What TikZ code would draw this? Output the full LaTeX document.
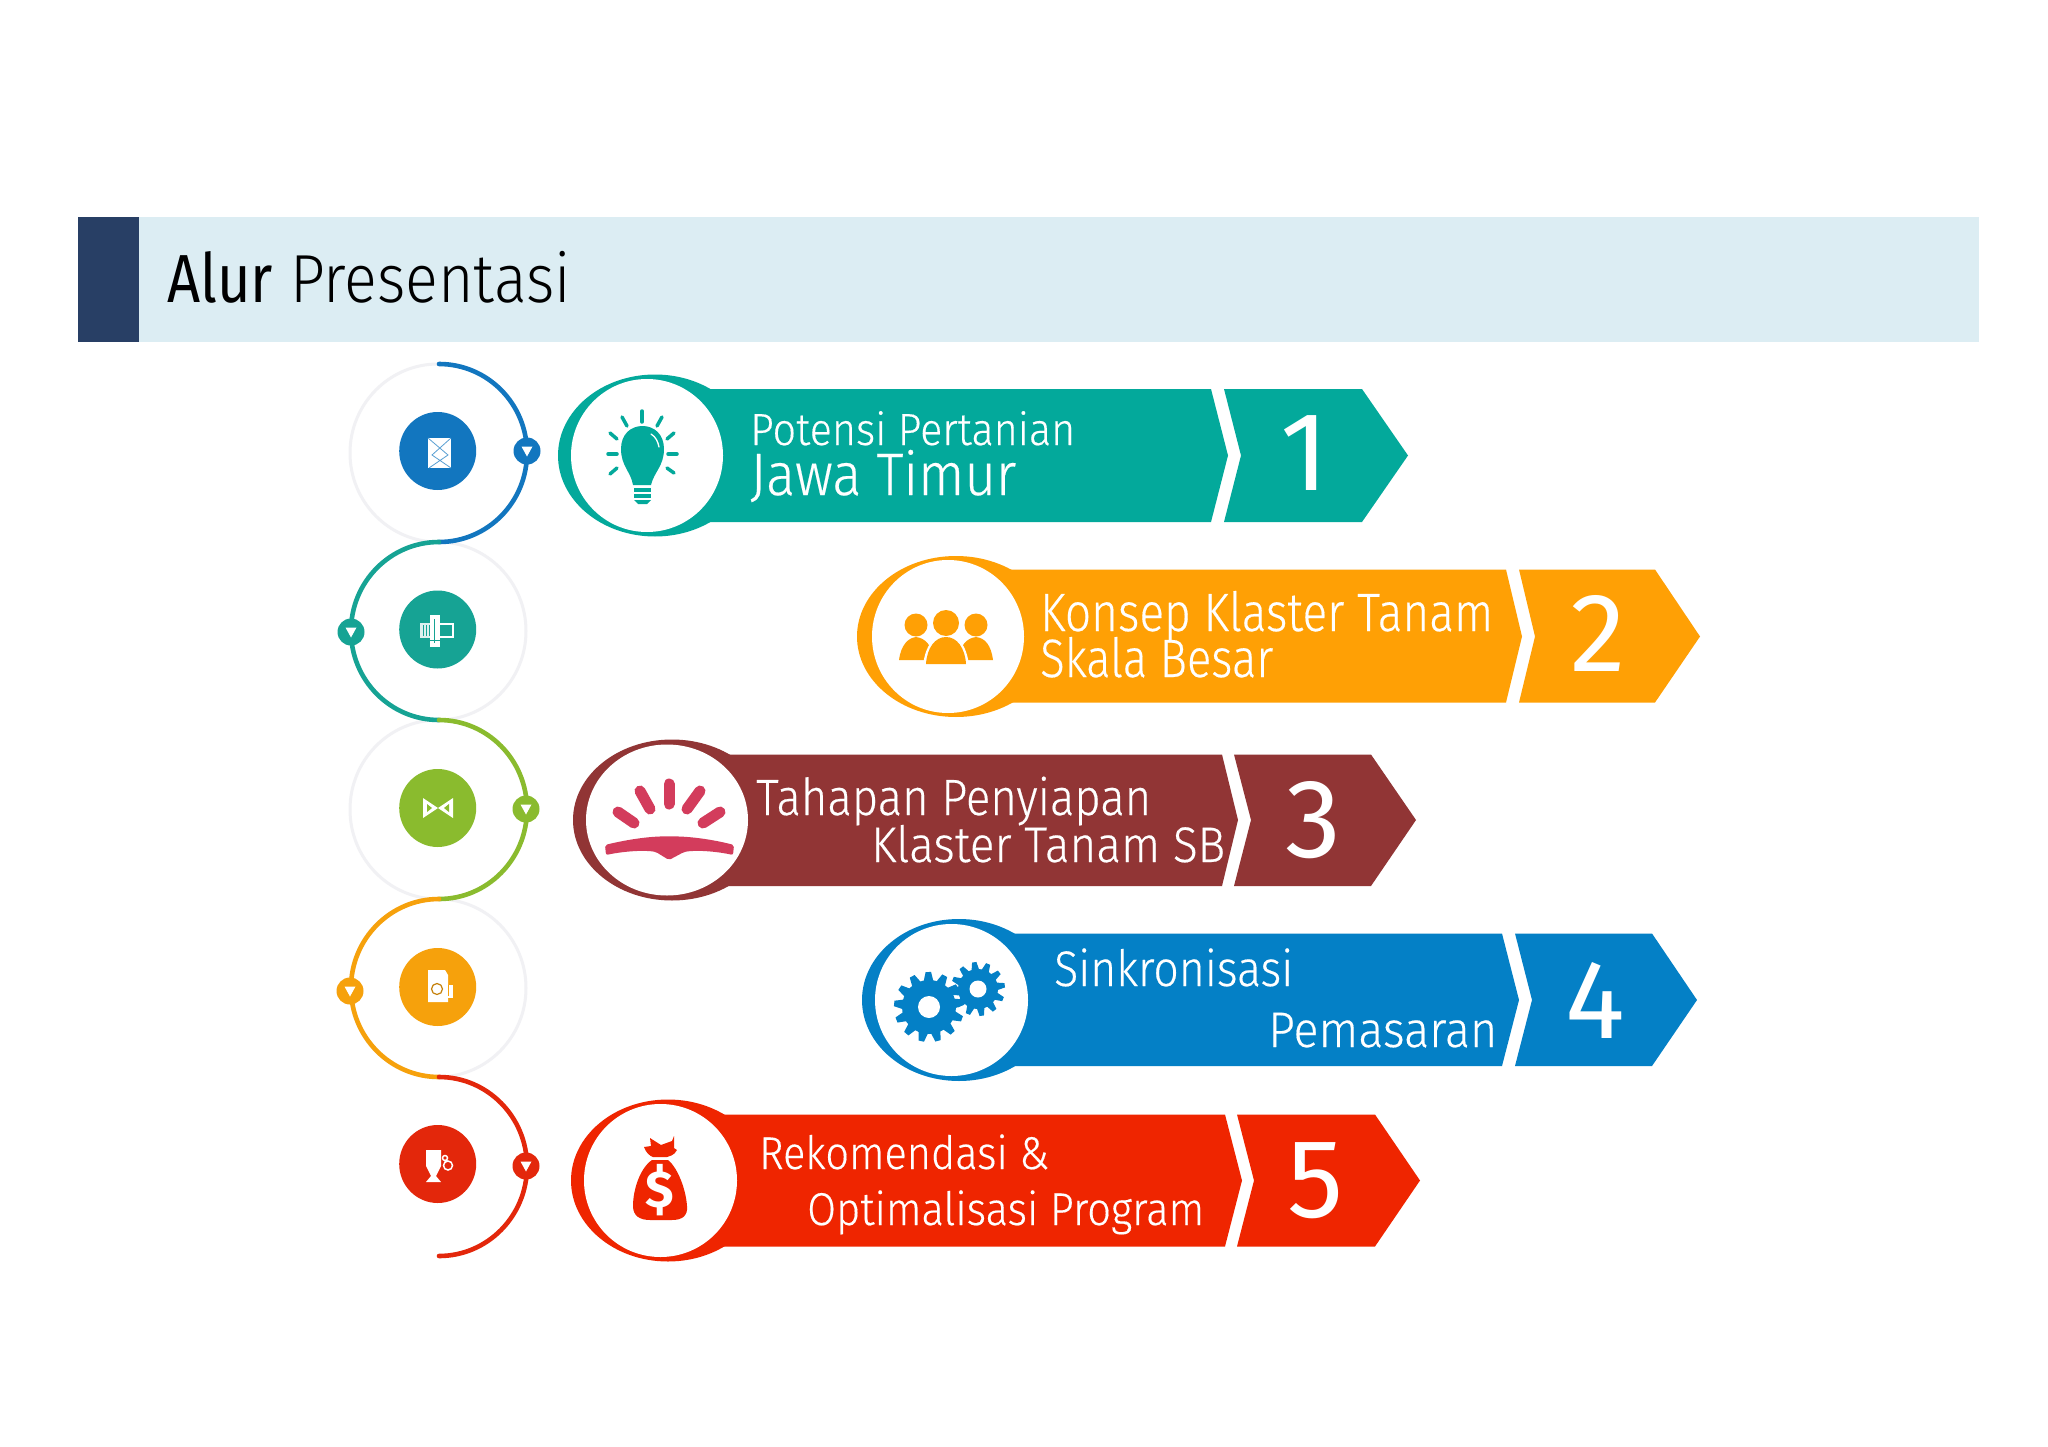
\documentclass[tikz,border=0pt]{standalone}
\usepackage{fontspec}
\usepackage{graphicx}
\setmainfont{Fira Sans Light}
\newfontfamily\regfont{Fira Sans}
\newfontfamily\bookfont[FakeBold=0.35]{Fira Sans Light}
\newfontfamily\boldfont{Fira Sans Bold}
\definecolor{cteal}{HTML}{03A99B}
\definecolor{corange}{HTML}{FFA005}
\definecolor{cmaroon}{HTML}{913535}
\definecolor{cblue}{HTML}{0480C6}
\definecolor{cred}{HTML}{EF2500}
\definecolor{cring}{HTML}{F1F1F4}
\definecolor{rblue}{HTML}{1276BF}
\definecolor{rteal}{HTML}{16A394}
\definecolor{rgreen}{HTML}{8ABB2E}
\definecolor{rorange}{HTML}{F6A10C}
\definecolor{rred}{HTML}{E3270B}
\definecolor{hlight}{HTML}{DCEDF3}
\definecolor{hdark}{HTML}{283F65}
\definecolor{csun}{HTML}{D33C5C}
\newsavebox{\fitbox}
% \fitw{width in pt}{font size}{text}
\newcommand{\fitw}[3]{\fontsize{#2}{#2}\selectfont\sbox{\fitbox}{#3}%
  \pgfmathsetmacro{\fitr}{#1/(\wd\fitbox/1pt)}\scalebox{\fitr}[1]{\usebox{\fitbox}}}
% \halfarc{colour}{x}{ytop}{ybot}{signed rx}
\newcommand{\halfarc}[5]{%
  \pgfmathsetmacro{\mym}{(#3+#4)/2}\pgfmathsetmacro{\myk}{0.5523*(#4-#3)/2}%
  \pgfmathsetmacro{\mxk}{#2+0.5523*(#5)}\pgfmathsetmacro{\mxr}{#2+(#5)}%
  \draw[rarc,#1] (#2,#3) .. controls (\mxk,#3) and (\mxr,\mym-\myk) .. (\mxr,\mym)
     .. controls (\mxr,\mym+\myk) and (\mxk,#4) .. (#2,#4);}
\newcommand{\banner}[9]{\def\bcol{#1}\def\bcx{#2}\def\bcy{#3}\def\brxw{#4}\def\bryw{#5}\def\bcxo{#6}\def\brxo{#7}\def\bryo{#8}\def\btop{#9}\bannerB}
\newcommand{\bannerB}[6]{%
  \fill[\bcol] (\bcxo,\bcy) ellipse[x radius=\brxo pt,y radius=\bryo pt];
  \fill[\bcol] (\bcxo,\btop) -- (#2,\btop) -- (#3,\bcy) -- (#2,#1) -- (\bcxo,#1) -- cycle;
  \fill[\bcol] (#4,\btop) -- (#5,\btop) -- (#6,\bcy) -- (#5,#1) -- (#4,#1) -- (\bannerN,\bcy) -- cycle;
  \fill[white] (\bcx,\bcy) ellipse[x radius=\brxw pt,y radius=\bryw pt];}
\newcommand{\knob}[3]{\fill[#1] (#2,#3) circle[radius=13.5pt];
  \fill[white] (#2-5.5,#3-4.5) -- (#2+5.5,#3-4.5) -- (#2,#3+5.5) -- cycle;}
\tikzset{
  rarc/.style={line width=4.6pt,line cap=round},
  ringc/.style={draw=cring,line width=3pt},
  txt/.style={anchor=base west,inner sep=0pt,text=white},
  num/.style={anchor=base,inner sep=0pt,text=white,font=\regfont\fontsize{112}{112}\selectfont},
  iconl/.style={draw=white,line width=1.2pt},
}
\begin{document}
\begin{tikzpicture}[x=1pt,y=-1pt]
\useasboundingbox (0,0) rectangle (2048,1447);
\fill[white] (0,0) rectangle (2048,1447);
% header
\fill[hlight] (139,217) rectangle (1979,342);
\fill[hdark] (78,217) rectangle (139,342);
\node[anchor=base west,inner sep=0pt,text=black] (title1) at (167,303) {\fitw{106}{68}{\regfont Alur}};
\node[anchor=base west,inner sep=0pt,text=black] (title2) at (290,303) {\fitw{281}{68}{Presentasi}};
% grey rings
\draw[ringc] (438,453) ellipse[x radius=88pt,y radius=89pt];
\draw[ringc] (438,631) ellipse[x radius=88pt,y radius=89pt];
\draw[ringc] (438,809.5) ellipse[x radius=88pt,y radius=89.5pt];
\draw[ringc] (438,988) ellipse[x radius=88pt,y radius=89pt];
% coloured arcs
\halfarc{rblue}{439}{364}{542}{88}
\halfarc{rteal}{439}{542}{720}{-88}
\halfarc{rgreen}{439}{720}{899}{88}
\halfarc{rorange}{439}{899}{1077}{-88}
\halfarc{rred}{439}{1077}{1256}{88}
\knob{rblue}{527}{451}
\knob{rteal}{351}{632}
\knob{rgreen}{526}{809}
\knob{rorange}{350}{991}
\knob{rred}{526}{1166}
% icon discs
\fill[rblue] (437.7,451) ellipse[x radius=38.5pt,y radius=39pt];
\fill[rteal] (437.7,629.5) ellipse[x radius=38.5pt,y radius=39pt];
\fill[rgreen] (437.7,808) ellipse[x radius=38.5pt,y radius=39pt];
\fill[rorange] (437.7,987) ellipse[x radius=38.5pt,y radius=39pt];
\fill[rred] (437.7,1164) ellipse[x radius=38.5pt,y radius=39pt];
% mini icon 1: envelope
\fill[white] (428,438) rectangle (451,468);
\draw[rblue!70,line width=.8pt] (428,438) -- (448,455) -- (429,468) (451,438) -- (432,455) -- (451,468);
% mini icon 2: devices
\fill[white] (430,615) rectangle (440,647);
\fill[white,opacity=.85] (420,623) rectangle (430,638);
\foreach \sx in {423,426,429} \draw[rteal,line width=.8pt] (\sx,625) -- (\sx,636);
\draw[rteal,line width=.8pt] (434,619) -- (434,643) (430,640) -- (440,640);
\draw[iconl,line width=1.8pt] (440,624) -- (453,624) -- (453,637) -- (440,637);
% mini icon 3: bowtie
\fill[white] (423,798) -- (438,808) -- (453,798) -- (453,818) -- (438,808) -- (423,818) -- cycle;
\fill[rgreen] (427,804) -- (432,808) -- (427,812) -- cycle (449,804) -- (444,808) -- (449,812) -- cycle;
% mini icon 4: camera
\fill[white] (428,970) -- (445,970) -- (448,975) -- (448,1002) -- (428,1002) -- cycle;
\fill[white] (448,985) rectangle (453,998);
\draw[rorange!80!black,line width=1.2pt] (437,989) circle[radius=5.5pt];
\draw[rorange,line width=1pt] (448,985) -- (448,996);
% mini icon 5: mug
\fill[white] (426,1150) -- (441,1150) -- (441,1166) -- (436,1176) -- (441,1182) -- (426,1182) -- (431,1176) -- (426,1166) -- cycle;
\draw[white,line width=1.5pt] (448,1165.5) circle[radius=4.5pt] (445,1158) circle[radius=2.5pt];
% banners
\def\bannerN{1241}
\banner{cteal}{647}{455.5}{76}{76.5}{655}{97}{81}{389}{522}{1211}{1228}{1224}{1362}{1408}
\def\bannerN{1535}
\banner{corange}{948}{636.5}{76}{76.5}{956}{99}{80.5}{569.5}{702.5}{1506}{1522}{1519}{1655}{1700}
\def\bannerN{1251}
\banner{cmaroon}{667}{820}{81}{75.5}{672}{99}{80.5}{754.5}{886}{1222}{1238}{1234}{1371}{1416}
\def\bannerN{1532}
\banner{cblue}{951.5}{1000}{76.5}{76}{959}{97}{81}{933.5}{1066}{1502}{1519}{1515}{1652}{1697}
\def\bannerN{1254}
\banner{cred}{660.5}{1180.5}{76.5}{76.5}{668}{97}{81}{1114.5}{1246.5}{1225}{1242}{1237}{1375}{1420}
% bulb
\fill[cteal] (633,485) .. controls (631,472) and (621,466) .. (621,449) .. controls (621,434) and (631,426) .. (642.5,426) .. controls (654,426) and (664,434) .. (664,449) .. controls (664,466) and (654,472) .. (651,485) -- cycle;
\draw[white,line width=1.3pt,line cap=round] (651,434) .. controls (656,437) and (658,442) .. (659,447);
\fill[cteal] (634,488) rectangle (651,492);
\fill[cteal] (634,494) rectangle (651,498);
\fill[cteal] (634,500) -- (651,500) -- (647,504) -- (638,504) -- cycle;
\foreach \ax/\ay/\bx/\by in {642/411/642/422, 622/417/627/426, 662/417/657/426, 610/433/617/439, 674/433/667/439, 608/454/617/454, 668/454/677/454, 610/474/617/468, 674/473/667/468}
  \draw[cteal,line width=3.5pt,line cap=round] (\ax,\ay) -- (\bx,\by);
% people
\fill[corange] (916,625) circle[radius=11.5pt] (976,625) circle[radius=11.5pt];
\fill[corange] (899,660) .. controls (901,645) and (908,638) .. (916,637) .. controls (925,638) and (932,645) .. (934,660) -- cycle;
\fill[corange] (958,660) .. controls (960,645) and (967,638) .. (976,637) .. controls (985,638) and (991,645) .. (993,660) -- cycle;
\fill[white] (946,623) circle[radius=15.5pt];
\fill[white] (923,666) .. controls (925,645) and (935,634) .. (946,634) .. controls (957,634) and (967,645) .. (969,666) -- cycle;
\fill[corange] (946,623) circle[radius=13pt];
\fill[corange] (926,664) .. controls (927,648) and (935,637) .. (946,637) .. controls (957,637) and (965,648) .. (966,664) -- cycle;
% sun
\foreach \ax/\ay/\bx/\by in {669/784/669/804, 640/791/650/809, 618/812/634/823, 700/791/687/809, 720/812/703/823}
  \draw[csun,line width=11pt,line cap=round] (\ax,\ay) -- (\bx,\by);
\fill[csun,rounded corners=2pt] (605,845) .. controls (625,840) and (650,836) .. (669,836.5) .. controls (690,836) and (715,840) .. (734,845) -- (733,855) .. controls (715,851) and (695,850) .. (684,852) -- (669,860) -- (656,852) .. controls (645,850) and (625,851) .. (606,855) -- cycle;
% gears
\foreach \gx/\gy/\gr/\gt/\gn/\gw in {929/1007/27/8/13/5, 978/989/20/7/12/4}{
  \fill[cblue] (\gx,\gy) circle[radius=\gr pt];
  \pgfmathsetmacro{\gstep}{360/\gn}
  \foreach \gi in {1,...,\gn}{
    \pgfmathsetmacro{\gang}{\gi*\gstep+8}
    \fill[cblue,shift={(\gx,\gy)},rotate=\gang] (\gr-2,-\gw) -- (\gr+\gt,-\gw*.55) -- (\gr+\gt,\gw*.55) -- (\gr-2,\gw) -- cycle;
  }
}
\fill[white] (929,1007) circle[radius=11pt];
\fill[white] (978,989) circle[radius=8.5pt];
% money bag
\fill[cred] (652,1160) .. controls (640,1168) and (633,1190) .. (633,1206) .. controls (633,1216) and (640,1220) .. (650,1220) -- (672,1220) .. controls (682,1220) and (688,1216) .. (687,1206) .. controls (686,1190) and (678,1168) .. (668,1160) -- cycle;
\fill[cred] (644,1147) -- (651,1146) -- (650,1138) -- (661,1145) -- (672,1141) -- (674,1136) -- (674,1148) -- (677,1150) .. controls (674,1156) and (669,1156) .. (667,1157) -- (653,1157) .. controls (650,1156) and (646,1153) .. (644,1147) -- cycle;
\node[inner sep=0pt,text=white] (dollar) at (660,1190) {\boldfont\fontsize{52}{52}\selectfont \$};
% texts
\node[txt] (t1a) at (750,445) {\fitw{325}{45}{\bookfont Potensi Pertanian}};
\node[txt] (t1b) at (750,495) {\fitw{266}{60}{\bookfont Jawa Timur}};
\node[num] (n1) at (1305,490) {1};
\node[txt] (t2a) at (1040,631) {\fitw{453}{54}{\bookfont Konsep Klaster Tanam}};
\node[txt] (t2b) at (1040,677) {\fitw{233}{54}{\bookfont Skala Besar}};
\node[num] (n2) at (1598,671) {2};
\node[txt] (t3a) at (756,815) {\fitw{395}{51}{\bookfont Tahapan Penyiapan}};
\node[txt] (t3b) at (871,862) {\fitw{354}{50}{\bookfont Klaster Tanam SB}};
\node[num] (n3) at (1313,857) {3};
\node[txt] (t4a) at (1054,986) {\fitw{239}{50}{\bookfont Sinkronisasi}};
\node[txt] (t4b) at (1268,1047) {\fitw{229}{50}{\bookfont Pemasaran}};
\node[num] (n4) at (1595,1038) {4};
\node[txt] (t5a) at (759,1169) {\fitw{290}{46}{\bookfont Rekomendasi \&}};
\node[txt] (t5b) at (807,1225) {\fitw{397}{46}{\bookfont Optimalisasi Program}};
\node[num] (n5) at (1316,1217) {5};
\end{tikzpicture}
\end{document}
